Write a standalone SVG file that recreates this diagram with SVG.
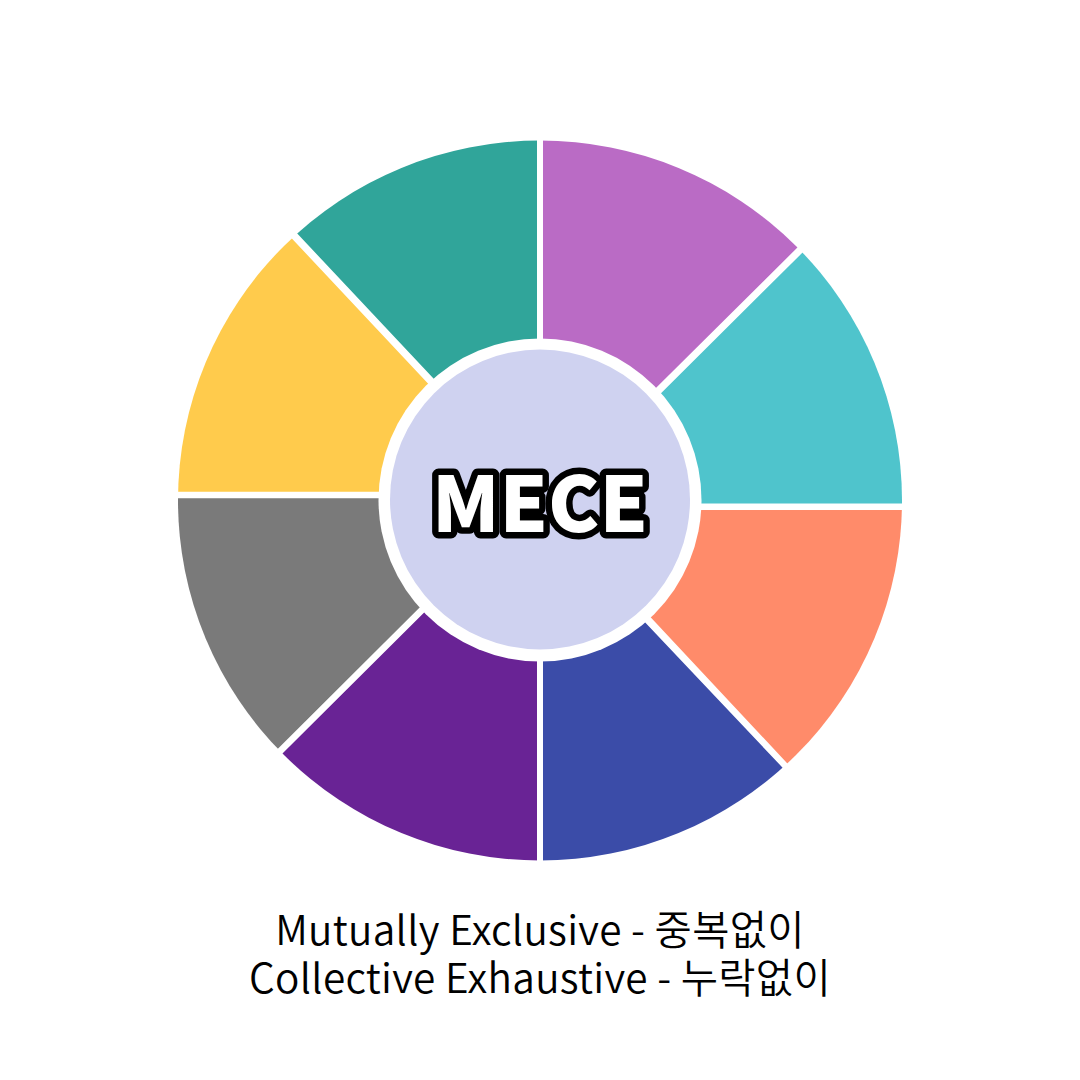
<svg xmlns="http://www.w3.org/2000/svg" width="1080" height="1080" viewBox="0 0 1080 1080">
<style>
.seg{stroke:none}
.cap{font-family:"Noto Sans CJK KR","Noto Sans",sans-serif;font-weight:350;font-size:40.5px;letter-spacing:0.3px;fill:#000;text-anchor:middle}
.title{font-family:"Noto Sans CJK KR","Noto Sans",sans-serif;font-weight:900;font-size:77px;fill:#fff;stroke:#000;stroke-width:13;stroke-linejoin:round;paint-order:stroke;text-anchor:middle}
</style>
<defs>
<clipPath id="outer"><ellipse cx="540" cy="500.5" rx="362" ry="360"/></clipPath>
</defs>
<rect width="1080" height="1080" fill="#fff"/>
<g clip-path="url(#outer)">
<g id="seg-purple"><path class="seg" fill="#BA6BC5" d="M540,500 L543,430 L543,90 L807.9,-146.7 L903.1,142.6 L607,436.6 Z"/></g>
<g id="seg-cyan"><path class="seg" fill="#4FC4CC" d="M540,500 L612,442 L908.1,147.6 L1186.7,232.1 L960,503.4 L610,503.4 Z"/></g>
<g id="seg-orange"><path class="seg" fill="#FF8B6A" d="M540,500 L610,510 L960,510 L1186.7,767.9 L889.1,872.3 L603.9,567.2 Z"/></g>
<g id="seg-blue"><path class="seg" fill="#3B4CA8" d="M540,500 L597.9,572.5 L884.8,875.7 L807.9,1146.7 L543,920 L543,570 Z"/></g>
<g id="seg-darkpurple"><path class="seg" fill="#692395" d="M540,500 L537,570 L537,920 L272.1,1146.7 L176.4,859.1 L471.9,564.9 Z"/></g>
<g id="seg-gray"><path class="seg" fill="#7A7A7A" d="M540,500 L467.3,559.9 L172.1,854.2 L-106.7,767.9 L120,498.3 L470,498.3 Z"/></g>
<g id="seg-yellow"><path class="seg" fill="#FFCB4C" d="M540,500 L470,491.7 L120,491.7 L-106.7,232.1 L189.7,129.6 L475.6,434.3 Z"/></g>
<g id="seg-teal"><path class="seg" fill="#30A59A" d="M540,500 L481.2,429.3 L195,124.7 L272.1,-146.7 L537,90 L537,430 Z"/></g>
</g>
<g id="center">
<circle cx="540" cy="500" r="161.5" fill="#fff"/>
<circle cx="540" cy="499.5" r="150" fill="#CFD2F0"/>
<text class="title" x="540" y="531.5">MECE</text>
</g>
<g id="caption">
<text class="cap"><tspan x="540" y="945">Mutually Exclusive - 중복없이</tspan><tspan x="540" y="993">Collective Exhaustive - 누락없이</tspan></text>
</g>
</svg>
